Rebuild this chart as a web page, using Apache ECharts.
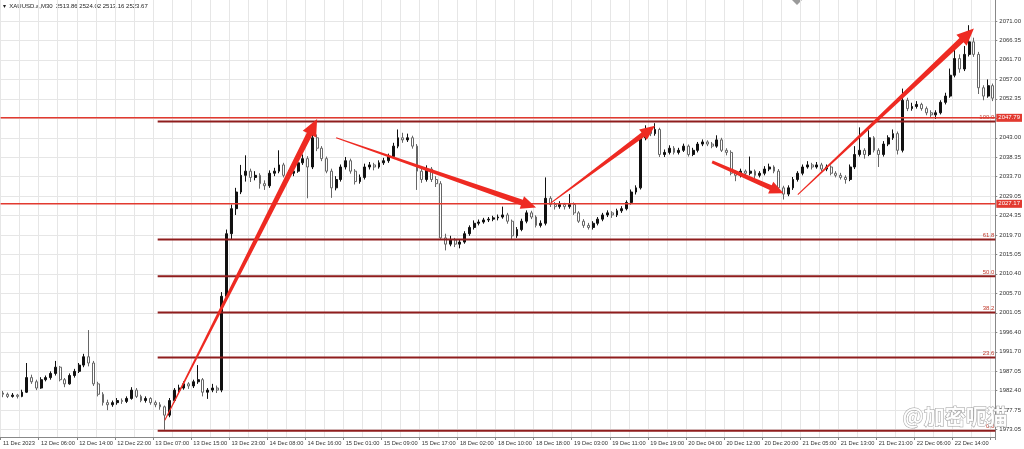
<!DOCTYPE html>
<html><head><meta charset="utf-8">
<script src="https://cdn.jsdelivr.net/npm/echarts@6/dist/echarts.min.js"></script>
<style>html,body{margin:0;padding:0;background:#fff}#c{width:1024px;height:449px}</style>
</head><body><div id="c"></div>
<script>
const tickLabels = ["11 Dec 2023","12 Dec 06:00","12 Dec 14:00","12 Dec 22:00","13 Dec 07:00","13 Dec 15:00","13 Dec 23:00","14 Dec 08:00","14 Dec 16:00","15 Dec 01:00","15 Dec 09:00","15 Dec 17:00","18 Dec 02:00","18 Dec 10:00","18 Dec 18:00","19 Dec 03:00","19 Dec 11:00","19 Dec 19:00","20 Dec 04:00","20 Dec 12:00","20 Dec 20:00","21 Dec 05:00","21 Dec 13:00","21 Dec 21:00","22 Dec 06:00","22 Dec 14:00"];
const yTicks = [2071.00,2066.35,2061.70,2057.00,2052.35,2047.70,2043.00,2038.35,2033.70,2029.05,2024.35,2019.70,2015.05,2010.40,2005.70,2001.05,1996.40,1991.70,1987.05,1982.40,1977.75,1973.05];

const candleOpen = [
1981.8,1981.5,1981.0,1981.3,1981.0,1982.0,1985.5,1984.5,1983.0,1985.0,
1985.5,1986.5,1988.0,1985.0,1984.0,1986.0,1987.0,1988.5,1990.5,1989.0,
1984.0,1981.5,1979.5,1979.0,1979.5,1980.0,1979.8,1980.5,1982.5,1981.0,
1980.0,1980.5,1979.5,1979.0,1978.5,1976.5,1980.0,1982.5,1983.0,1984.0,
1983.5,1984.5,1985.0,1982.0,1982.5,1983.0,1982.5,2005.0,2020.0,2026.0,
2030.0,2034.0,2035.0,2033.5,2034.0,2032.0,2031.5,2034.5,2035.0,2036.5,
2034.0,2034.5,2035.0,2037.0,2038.0,2036.0,2043.0,2040.5,2038.0,2035.0,
2031.0,2033.0,2036.0,2037.5,2035.0,2032.5,2033.5,2036.0,2036.5,2036.0,
2037.0,2037.5,2038.5,2041.0,2043.0,2042.5,2043.0,2041.0,2035.0,2033.0,
2035.5,2033.0,2032.0,2019.0,2017.5,2018.5,2017.5,2018.0,2020.0,2021.5,
2022.5,2022.8,2023.3,2023.5,2023.8,2024.0,2024.5,2023.0,2019.5,2021.0,
2023.0,2025.0,2024.0,2022.0,2022.5,2028.5,2027.0,2026.5,2027.0,2026.5,
2027.0,2025.0,2023.0,2022.0,2021.5,2022.5,2023.5,2024.5,2025.0,2024.5,
2025.5,2026.0,2027.5,2030.0,2031.0,2043.0,2045.0,2044.0,2045.0,2039.0,
2039.5,2040.5,2039.5,2040.0,2041.0,2039.0,2040.0,2041.5,2042.0,2041.5,
2041.0,2042.5,2040.0,2039.5,2034.5,2034.0,2035.0,2034.5,2035.0,2034.0,
2034.5,2035.5,2036.0,2035.0,2031.0,2029.5,2031.0,2033.0,2034.5,2036.0,
2036.5,2036.0,2036.5,2035.5,2036.0,2034.5,2034.0,2033.5,2033.0,2036.0,
2039.0,2040.0,2039.0,2043.0,2040.0,2039.0,2041.5,2043.0,2044.0,2040.0,
2052.0,2050.0,2050.5,2051.0,2050.0,2049.0,2048.5,2049.0,2051.5,2053.0,
2058.0,2062.0,2059.5,2063.0,2066.0,2063.0,2055.0,2053.0,2055.5];
const candleHigh = [
1982.3,1981.9,1981.8,1981.6,1982.6,1989.0,1986.2,1985.0,1985.6,1986.0,
1987.0,1989.5,1988.3,1985.4,1986.5,1987.6,1989.0,1991.2,1996.9,1989.5,
1984.5,1982.0,1980.2,1980.0,1980.6,1980.5,1981.0,1983.2,1983.0,1981.4,
1981.0,1980.8,1980.0,1979.6,1978.8,1980.6,1983.0,1983.8,1984.6,1984.4,
1985.0,1988.5,1985.4,1983.0,1984.0,1983.6,2006.0,2021.0,2027.0,2031.0,
2036.5,2038.8,2035.6,2035.0,2034.5,2032.8,2035.2,2035.8,2040.0,2037.0,
2035.2,2035.8,2037.8,2039.0,2038.6,2045.2,2043.8,2041.0,2038.5,2035.6,
2033.8,2036.6,2038.4,2038.0,2035.5,2034.2,2036.8,2037.2,2037.0,2037.6,
2038.2,2039.2,2041.8,2045.0,2044.2,2044.0,2043.5,2041.5,2035.6,2036.4,
2036.0,2033.8,2032.6,2020.0,2019.5,2019.0,2018.6,2020.6,2022.0,2023.2,
2023.4,2023.8,2024.0,2024.3,2024.6,2026.5,2025.0,2023.4,2021.6,2023.6,
2025.6,2025.5,2024.4,2023.2,2033.5,2029.0,2027.6,2027.8,2027.4,2029.5,
2027.5,2025.4,2023.5,2022.6,2023.0,2024.0,2025.0,2025.6,2025.4,2026.0,
2026.6,2028.0,2030.6,2031.6,2043.5,2046.0,2045.6,2046.5,2045.4,2040.2,
2041.2,2041.0,2040.6,2041.6,2041.4,2040.6,2042.0,2042.6,2042.4,2042.0,
2043.6,2043.0,2040.5,2040.0,2035.2,2035.6,2035.4,2038.5,2035.4,2035.0,
2036.2,2036.8,2036.4,2035.5,2031.5,2031.6,2033.6,2035.0,2036.6,2037.4,
2037.0,2037.2,2037.0,2036.6,2036.4,2035.0,2034.6,2034.0,2036.6,2041.0,
2045.5,2040.5,2044.8,2043.4,2040.5,2042.2,2043.6,2045.0,2044.5,2054.8,
2052.6,2051.4,2051.8,2051.4,2050.5,2049.6,2049.6,2052.0,2053.8,2059.6,
2064.5,2063.0,2065.0,2070.0,2067.0,2063.6,2055.6,2057.0,2056.0];
const candleLow = [
1980.8,1980.6,1980.7,1980.5,1980.8,1981.8,1984.0,1982.5,1982.8,1984.6,
1985.0,1986.0,1984.6,1983.2,1983.8,1985.5,1986.6,1988.0,1988.2,1983.5,
1981.0,1978.8,1977.7,1978.5,1979.0,1979.2,1979.4,1980.2,1980.6,1979.6,
1979.5,1979.0,1978.4,1977.8,1973.0,1976.0,1979.6,1982.0,1982.6,1982.8,
1983.0,1984.0,1981.0,1980.4,1982.0,1981.8,1982.0,2004.0,2018.5,2024.5,
2029.5,2032.5,2032.4,2032.8,2030.8,2030.5,2031.0,2033.8,2034.5,2033.5,
2033.4,2033.8,2034.6,2036.5,2028.5,2035.5,2039.8,2037.4,2034.5,2028.6,
2030.4,2032.5,2035.4,2034.4,2031.8,2032.0,2033.0,2035.4,2035.2,2035.6,
2036.5,2037.0,2038.0,2040.5,2041.8,2042.0,2040.4,2030.5,2032.2,2032.5,
2032.4,2031.2,2018.5,2016.0,2017.0,2016.8,2016.5,2017.6,2019.5,2021.0,
2022.0,2022.4,2022.8,2023.0,2023.2,2023.6,2022.4,2018.5,2019.0,2020.6,
2022.5,2023.5,2021.5,2021.5,2022.0,2026.4,2025.8,2026.0,2025.8,2026.0,
2024.5,2022.6,2021.4,2021.0,2021.0,2022.0,2023.0,2024.0,2023.8,2024.0,
2025.0,2025.6,2027.0,2029.4,2030.6,2042.4,2043.4,2043.5,2038.4,2038.4,
2039.0,2039.0,2039.0,2039.6,2038.5,2038.6,2039.5,2041.0,2041.0,2040.5,
2040.6,2039.6,2038.8,2034.0,2032.6,2033.5,2033.8,2034.0,2033.0,2033.5,
2034.0,2035.0,2034.5,2030.5,2028.2,2029.0,2030.5,2032.5,2034.0,2035.6,
2035.4,2035.6,2035.0,2035.0,2034.0,2033.5,2033.0,2032.0,2032.6,2035.5,
2038.5,2038.0,2038.6,2039.5,2036.0,2038.5,2041.0,2042.5,2039.0,2039.5,
2049.4,2049.5,2050.0,2049.5,2048.4,2048.0,2047.5,2048.6,2051.0,2052.6,
2057.5,2058.6,2059.0,2062.5,2062.4,2053.5,2052.0,2052.6,2051.8];
const candleClose = [
1981.5,1981.0,1981.3,1981.0,1982.0,1985.5,1984.5,1983.0,1985.0,1985.5,
1986.5,1988.0,1985.0,1984.0,1986.0,1987.0,1988.5,1990.5,1989.0,1984.0,
1981.5,1979.5,1979.0,1979.5,1980.0,1979.8,1980.5,1982.5,1981.0,1980.0,
1980.5,1979.5,1979.0,1978.5,1976.5,1980.0,1982.5,1983.0,1984.0,1983.5,
1984.5,1985.0,1982.0,1982.5,1983.0,1982.5,2005.0,2020.0,2026.0,2030.0,
2034.0,2035.0,2033.5,2034.0,2032.0,2031.5,2034.5,2035.0,2036.5,2034.0,
2034.5,2035.0,2037.0,2038.0,2036.0,2043.0,2040.5,2038.0,2035.0,2031.0,
2033.0,2036.0,2037.5,2035.0,2032.5,2033.5,2036.0,2036.5,2036.0,2037.0,
2037.5,2038.5,2041.0,2043.0,2042.5,2043.0,2041.0,2035.0,2033.0,2035.5,
2033.0,2032.0,2019.0,2017.5,2018.5,2017.5,2018.0,2020.0,2021.5,2022.5,
2022.8,2023.3,2023.5,2023.8,2024.0,2024.5,2023.0,2019.5,2021.0,2023.0,
2025.0,2024.0,2022.0,2022.5,2028.5,2027.0,2026.5,2027.0,2026.5,2027.0,
2025.0,2023.0,2022.0,2021.5,2022.5,2023.5,2024.5,2025.0,2024.5,2025.5,
2026.0,2027.5,2030.0,2031.0,2043.0,2045.0,2044.0,2045.0,2039.0,2039.5,
2040.5,2039.5,2040.0,2041.0,2039.0,2040.0,2041.5,2042.0,2041.5,2041.0,
2042.5,2040.0,2039.5,2034.5,2034.0,2035.0,2034.5,2035.0,2034.0,2034.5,
2035.5,2036.0,2035.0,2031.0,2029.5,2031.0,2033.0,2034.5,2036.0,2036.5,
2036.0,2036.5,2035.5,2036.0,2034.5,2034.0,2033.5,2033.0,2036.0,2039.0,
2040.0,2039.0,2043.0,2040.0,2039.0,2041.5,2043.0,2044.0,2040.0,2052.0,
2050.0,2050.5,2051.0,2050.0,2049.0,2048.5,2049.0,2051.5,2053.0,2058.0,
2062.0,2059.5,2063.0,2066.0,2063.0,2055.0,2053.0,2055.5,2052.5];

const hLevels = [2047.79, 2027.17];
const fibLevels = [1972.75, 1990.3, 2001.1, 2009.8, 2018.6, 2046.9];
const fibLabels = ["0.0", "23.6", "38.2", "50.0", "61.8", "100.0"];
const fibStartIndex = 33;
// arrows: [startIndex, startPrice, endIndex, endPrice]
const arrows = [
  [34, 1975.3, 66, 2047.5],
  [70, 2043.0, 112, 2026.3],
  [115, 2027.3, 137, 2045.9],
  [149, 2037.2, 164, 2029.7],
  [167, 2029.4, 204, 2069.2]
];

const FONT = '"Liberation Sans", Arial, sans-serif';
const categories = candleOpen.map((_, i) => i);
const candles = candleOpen.map((o, i) => [o, candleClose[i], candleLow[i], candleHigh[i]]);
const arrowShape = [
  {w0: 1, w1: 6, hw: 15, hl: 17},
  {w0: 1, w1: 6, hw: 13, hl: 15},
  {w0: 1, w1: 5, hw: 13, hl: 15},
  {w0: 3, w1: 5, hw: 13, hl: 14},
  {w0: 1, w1: 6, hw: 15, hl: 17}
];

const chart = echarts.init(document.getElementById('c'), null, {renderer: 'canvas'});
chart.setOption({
  animation: false,
  backgroundColor: '#ffffff',
  grid: {left: 0, right: 27, top: 0, bottom: 12, containLabel: false},
  xAxis: {
    type: 'category', data: categories, boundaryGap: true,
    axisLine: {show: true, lineStyle: {color: '#888', width: 1}},
    axisTick: {show: true, interval: 7, length: 3, lineStyle: {color: '#888'}},
    axisLabel: {interval: 7, align: 'left', fontSize: 5.7, color: '#333', margin: 3, fontFamily: FONT,
      formatter: (v, i) => tickLabels[i / 8] || ''},
    splitLine: {show: true, interval: 3, lineStyle: {color: '#e6e6e6', width: 1}}
  },
  yAxis: {
    type: 'value', position: 'right', scale: true, min: 1971.26, max: 2076.04,
    axisLine: {show: true, lineStyle: {color: '#888', width: 1}},
    axisTick: {show: true, length: 2, customValues: yTicks, lineStyle: {color: '#888'}},
    axisLabel: {customValues: yTicks, fontSize: 6, color: '#333', margin: 4, fontFamily: FONT,
      formatter: v => v.toFixed(2)},
    splitLine: {show: true, lineStyle: {color: '#e6e6e6', width: 1}}
  },
  graphic: [
    {type: 'text', left: 3, top: 3, style: {text: '\u25BE  XAUUSD.a,M30  2513.86 2524.02 2513.16 2523.67', fill: '#222', font: '6px ' + FONT}},
    {type: 'polygon', shape: {points: [[792, 0], [802, 0], [797, 5]]}, style: {fill: '#9a9a9a'}},
    {type: 'text', left: 902, top: 405, z: 100, style: {text: '@加密呃猫', fill: 'rgba(255,255,255,0.92)', stroke: 'rgba(120,120,120,0.7)', lineWidth: 1, font: 'bold 21px "Noto Sans CJK SC", sans-serif'}}
  ],
  series: [
    {
      type: 'candlestick', data: candles, barMaxWidth: 3,
      itemStyle: {color: '#111', color0: '#ffffff', borderColor: '#111', borderColor0: '#666', borderWidth: 1}
    },
    {
      type: 'custom', name: 'fib', data: fibLevels.map((v, i) => [fibStartIndex, v, i]),
      encode: {x: 0, y: 1}, z: 3, silent: true,
      renderItem: (params, api) => {
        const cs = params.coordSys;
        const p = api.coord([api.value(0), api.value(1)]);
        const half = api.size([1, 0])[0] / 2;
        const xr = cs.x + cs.width;
        return {type: 'group', children: [
          {type: 'line', shape: {x1: p[0] - half, y1: p[1], x2: xr, y2: p[1]}, style: {stroke: '#8f1d1d', lineWidth: 2}},
          {type: 'text', x: xr - 1, y: p[1] - 1, style: {text: fibLabels[api.value(2)], fill: '#c0392b', font: '6px ' + FONT, align: 'right', verticalAlign: 'bottom'}}
        ]};
      }
    },
    {
      type: 'custom', name: 'hlines', data: hLevels.map(v => [0, v]),
      encode: {x: 0, y: 1}, z: 4, silent: true,
      renderItem: (params, api) => {
        const cs = params.coordSys;
        const y = api.coord([0, api.value(1)])[1];
        const xr = cs.x + cs.width;
        return {type: 'group', children: [
          {type: 'line', shape: {x1: cs.x, y1: y, x2: xr, y2: y}, style: {stroke: '#e23a30', lineWidth: 1.5}},
          {type: 'text', x: xr + 1, y: y, style: {text: api.value(1).toFixed(2), fill: '#fff', backgroundColor: '#e23a30', padding: [1, 2, 1, 2], font: '6px ' + FONT, verticalAlign: 'middle'}}
        ]};
      }
    },
    {
      type: 'custom', name: 'arrows', data: arrows,
      encode: {x: [0, 2], y: [1, 3]}, z: 5, silent: true,
      renderItem: (params, api) => {
        const s = arrowShape[params.dataIndex];
        const a = api.coord([api.value(0), api.value(1)]);
        const b = api.coord([api.value(2), api.value(3)]);
        const dx = b[0] - a[0], dy = b[1] - a[1];
        const len = Math.sqrt(dx * dx + dy * dy);
        const ux = dx / len, uy = dy / len, nx = -uy, ny = ux;
        const hb = [b[0] - ux * s.hl, b[1] - uy * s.hl];
        const pts = [
          [a[0] + nx * s.w0 / 2, a[1] + ny * s.w0 / 2],
          [hb[0] + nx * s.w1 / 2, hb[1] + ny * s.w1 / 2],
          [hb[0] + nx * s.hw / 2, hb[1] + ny * s.hw / 2],
          [b[0], b[1]],
          [hb[0] - nx * s.hw / 2, hb[1] - ny * s.hw / 2],
          [hb[0] - nx * s.w1 / 2, hb[1] - ny * s.w1 / 2],
          [a[0] - nx * s.w0 / 2, a[1] - ny * s.w0 / 2]
        ];
        return {type: 'polygon', shape: {points: pts}, style: {fill: '#ee2a22'}};
      }
    }
  ]
});
</script>
</body></html>
